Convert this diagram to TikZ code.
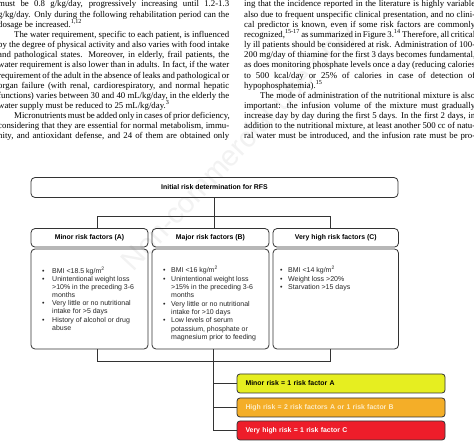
\documentclass[tikz,border=0pt]{standalone}
\usepackage{fontspec}
\setmainfont{Liberation Serif}
\newfontfamily\diagfont{Liberation Sans}
\newlength\colw
\setlength\colw{231pt}
\newcommand\jline[1]{\makebox[\colw][s]{#1}}
\newcommand\pline[1]{\makebox[\colw][l]{#1}}
\newcommand\firstind{\hspace*{16pt}}
\newcommand\paperfnt{\fontsize{8.8}{10}\selectfont}
\newcommand\itemfnt{\diagfont\fontsize{7}{8}\selectfont}
\newcommand\hdrfnt{\diagfont\bfseries\fontsize{6.9}{8}\selectfont}
\definecolor{edge}{HTML}{333333}
\definecolor{ryel}{HTML}{E6EE20}
\definecolor{rorg}{HTML}{F4AE28}
\definecolor{rred}{HTML}{EE1D2A}
\definecolor{rcream}{HTML}{FCEBC4}
\begin{document}
\begin{tikzpicture}[x=1pt,y=-1pt,
  paper/.style={anchor=base west, inner sep=0pt, font=\paperfnt},
  box/.style={draw=edge, line width=0.8pt, rounded corners=4pt, inner sep=0pt},
  hdr/.style={box, font=\hdrfnt},
  itm/.style={anchor=mid west, inner sep=0pt, font=\itemfnt, text=black!85},
  risk/.style={box, rounded corners=3pt, text width=191pt, inner xsep=8.5pt, inner ysep=0pt, minimum height=19pt, align=left, font=\hdrfnt},
  wire/.style={draw=edge, line width=0.8pt}]
\useasboundingbox (0,0) rectangle (474,443);
\fill[white] (0,0) rectangle (474,443);
% watermark
\node (wm) [rotate=47, text=black!5, font=\diagfont\fontsize{29}{30}\selectfont, inner sep=0pt] at (240,148) {Non-commercial use only};
% left column
\node (l1) [paper] at (-2,7) {\jline{must be 0.8 g/kg/day, progressively increasing until 1.2-1.3}};
\node (l2) [paper] at (-2,17.15) {\jline{g/kg/day. Only during the following rehabilitation period can the}};
\node (l3) [paper] at (-2,27.3) {\pline{dosage be increased.\textsuperscript{1,12}}};
\node (l4) [paper] at (-2,37.45) {\jline{\firstind The water requirement, specific to each patient, is influenced}};
\node (l5) [paper] at (-2,47.6) {\jline{by the degree of physical activity and also varies with food intake}};
\node (l6) [paper] at (-2,57.75) {\jline{and pathological states. Moreover, in elderly, frail patients, the}};
\node (l7) [paper] at (-2,67.9) {\jline{water requirement is also lower than in adults. In fact, if the water}};
\node (l8) [paper] at (-2,78.05) {\jline{requirement of the adult in the absence of leaks and pathological or}};
\node (l9) [paper] at (-2,88.2) {\jline{organ failure (with renal, cardiorespiratory, and normal hepatic}};
\node (l10) [paper] at (-2,98.35) {\jline{functions) varies between 30 and 40 mL/kg/day, in the elderly the}};
\node (l11) [paper] at (-2,108.5) {\pline{water supply must be reduced to 25 mL/kg/day.\textsuperscript{3}}};
\node (l12) [paper] at (-2,118.65) {\jline{\firstind Micronutrients must be added only in cases of prior deficiency,}};
\node (l13) [paper] at (-2,128.8) {\jline{considering that they are essential for normal metabolism, immu-}};
\node (l14) [paper] at (-2,138.95) {\jline{nity, and antioxidant defense, and 24 of them are obtained only}};
% right column
\node (r1) [paper] at (244,7) {\jline{ing that the incidence reported in the literature is highly variable}};
\node (r2) [paper] at (244,17.15) {\jline{also due to frequent unspecific clinical presentation, and no clini-}};
\node (r3) [paper] at (244,27.3) {\jline{cal predictor is known, even if some risk factors are commonly}};
\node (r4) [paper] at (244,37.45) {\jline{recognized,\textsuperscript{15-17} as summarized in Figure 3.\textsuperscript{14} Therefore, all critical-}};
\node (r5) [paper] at (244,47.6) {\jline{ly ill patients should be considered at risk. Administration of 100-}};
\node (r6) [paper] at (244,57.75) {\jline{200 mg/day of thiamine for the first 3 days becomes fundamental,}};
\node (r7) [paper] at (244,67.9) {\jline{as does monitoring phosphate levels once a day (reducing calories}};
\node (r8) [paper] at (244,78.05) {\jline{to 500 kcal/day or 25\% of calories in case of detection of}};
\node (r9) [paper] at (244,88.2) {\pline{hypophosphatemia).\textsuperscript{15}}};
\node (r10) [paper] at (244,98.35) {\jline{\firstind The mode of administration of the nutritional mixture is also}};
\node (r11) [paper] at (244,108.5) {\jline{important: the infusion volume of the mixture must gradually}};
\node (r12) [paper] at (244,118.65) {\jline{increase day by day during the first 5 days. In the first 2 days, in}};
\node (r13) [paper] at (244,128.8) {\jline{addition to the nutritional mixture, at least another 500 cc of natu-}};
\node (r14) [paper] at (244,138.95) {\jline{ral water must be introduced, and the infusion rate must be pro-}};
% diagram boxes
\node (top) [hdr, minimum width=367pt, minimum height=20pt] at (214.5,187.5) {Initial risk determination for RFS};
\node (hA) [hdr, minimum width=117pt, minimum height=18.5pt] at (89.5,237.8) {Minor risk factors (A)};
\node (hB) [hdr, minimum width=117pt, minimum height=18.5pt] at (210.5,237.8) {Major risk factors (B)};
\node (hC) [hdr, minimum width=125.5pt, minimum height=18.5pt] at (335.75,237.8) {Very high risk factors (C)};
\node (cA) [box, minimum width=117pt, minimum height=100pt] at (89.5,299) {};
\node (cB) [box, minimum width=117pt, minimum height=100pt] at (210.5,299) {};
\node (cC) [box, minimum width=125.5pt, minimum height=100pt] at (335.75,299) {};
% items A
\node (a1b) [itm] at (42,271) {\textbullet};
\node (a1) [itm] at (52,271) {BMI <18.5 kg/m\textsuperscript{2}};
\node (a2b) [itm] at (42,279.2) {\textbullet};
\node (a2) [itm] at (52,279.2) {Unintentional weight loss};
\node (a3) [itm] at (52,287.3) {>10\% in the preceding 3-6};
\node (a4) [itm] at (52,295.4) {months};
\node (a5b) [itm] at (42,303.6) {\textbullet};
\node (a5) [itm] at (52,303.6) {Very little or no nutritional};
\node (a6) [itm] at (52,311.7) {intake for >5 days};
\node (a7b) [itm] at (42,319.9) {\textbullet};
\node (a7) [itm] at (52,319.9) {History of alcohol or drug};
\node (a8) [itm] at (52,328) {abuse};
% items B
\node (b1b) [itm] at (163,270.5) {\textbullet};
\node (b1) [itm] at (171,270.5) {BMI <16 kg/m\textsuperscript{2}};
\node (b2b) [itm] at (163,278.9) {\textbullet};
\node (b2) [itm] at (171,278.9) {Unintentional weight loss};
\node (b3) [itm] at (171,287.3) {>15\% in the preceding 3-6};
\node (b4) [itm] at (171,295.5) {months};
\node (b5b) [itm] at (163,303.8) {\textbullet};
\node (b5) [itm] at (171,303.8) {Very little or no nutritional};
\node (b6) [itm] at (171,312.1) {intake for >10 days};
\node (b7b) [itm] at (163,320.6) {\textbullet};
\node (b7) [itm] at (171,320.6) {Low levels of serum};
\node (b8) [itm] at (171,329) {potassium, phosphate or};
\node (b9) [itm] at (171,337.5) {magnesium prior to feeding};
% items C
\node (c1b) [itm] at (280,270.3) {\textbullet};
\node (c1) [itm] at (288,270.3) {BMI <14 kg/m\textsuperscript{2}};
\node (c2b) [itm] at (280,279) {\textbullet};
\node (c2) [itm] at (288,279) {Weight loss >20\%};
\node (c3b) [itm] at (280,287.7) {\textbullet};
\node (c3) [itm] at (288,287.7) {Starvation >15 days};
% risk levels
\node (yel) [risk, fill=ryel, text=black] at (341,383.5) {Minor risk = 1 risk factor A};
\node (org) [risk, fill=rorg, text=rcream] at (341,407.5) {High risk = 2 risk factors A or 1 risk factor B};
\node (red) [risk, fill=rred, text=white] at (341,430.5) {Very high risk = 1 risk factor C};
% connectors
\coordinate (dA) at (97,216.5);
\coordinate (dC) at (330,216.5);
\draw[wire] (top.south) -- (top.south |- hB.north);
\draw[wire] (dA |- hA.north) -- (dA) -- (dC) -- (dC |- hC.north);
\coordinate (bA) at (97,361);
\coordinate (bC) at (330,361);
\draw[wire] (bA |- cA.south) -- (bA) -- (bC) -- (bC |- cC.south);
\coordinate (sp) at (213.5,430.5);
\draw[wire] (sp |- cB.south) -- (sp) -- (red.west);
\draw[wire] (sp |- yel.west) -- (yel.west);
\draw[wire] (sp |- org.west) -- (org.west);
\end{tikzpicture}
\end{document}
